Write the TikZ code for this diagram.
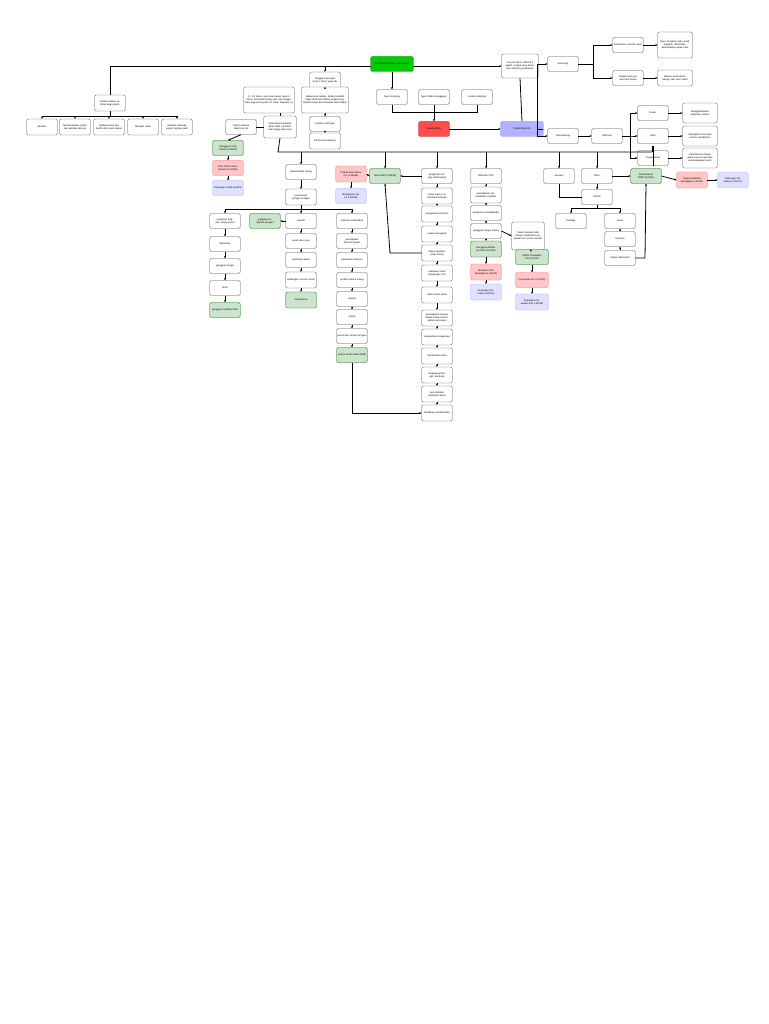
\documentclass[tikz,border=0pt]{standalone}
\usetikzlibrary{arrows.meta}
\usepackage{fontspec}
\setmainfont{Liberation Sans}
\begin{document}
\begin{tikzpicture}[x=1pt,y=-1pt,
  every node/.style={font=\fontsize{2.4}{2.9}\selectfont, align=center, inner sep=0.8pt},
  b/.style={draw=black!70, line width=0.35pt, rounded corners=1.5pt, fill=white, text width=#1-3pt, minimum height=15pt},
  b/.default=46pt,
  g/.style={b=#1, fill=green!45!black!20!white, draw=green!40!black},
  g/.default=46pt,
  r/.style={b=#1, fill=red!22, draw=red!60},
  r/.default=46pt,
  bl/.style={b=#1, fill=blue!12, draw=blue!35},
  bl/.default=46pt,
  ar/.style={line width=0.8pt, -{Stealth[length=2.2pt,width=2pt]}},
  ln/.style={line width=0.8pt}]
\useasboundingbox (0,0) rectangle (768,1024);
% root
\node[b=44pt, fill=green!80!black, draw=green!50!black] (root) at (392,64) {Osteoarthritis Genu (OA Genu)};
\node[b=38pt, minimum height=24pt] (risk) at (520,66) {Usia 54 tahun, BMI 29,4 kg/m2, riwayat kerja berat, jenis kelamin perempuan};
\node[b=32pt, minimum height=16pt] (kel) at (110,103) {Keluhan dalam aktivitas bagi pasien};
\coordinate (jL) at (110,66);
\draw[ln] (root.west |- jL) -- (jL) -- (kel.north);
\draw[ar] (root.east |- risk.west) -- (risk.west);
\foreach \n/\x/\t in {k1/42/Berlutut/jongkok, k2/75/Membersihkan rumah dan aktivitas lainnya, k3/109/Duduk bersila dan berdiri dari posisi duduk, k4/143/Menyetir mobil, k5/177/Aktivitas olahraga seperti berjalan jauh}
  {\node[b=32pt,minimum height=16pt] (\n) at (\x,127) {\t};
   \draw[ar] (kel.south) -- (110,116) -| (\n.north);}
% left upper
\node[b=52pt, minimum height=26pt] (hist) at (269,100) {Pr. 62 tahun, nyeri lutut kanan sejak 1 tahun, bertambah berat saat naik tangga, kaku pagi kurang dari 30 menit, krepitasi (+)};
\node[b=32pt] (lari) at (241,127) {Pasien tampak tidak bisa lari};
\node[b=34pt, minimum height=22pt] (jalan) at (280,127) {Kemampuan berjalan tidak stabil, kesulitan naik tangga dan turun};
\node[g=32pt] (gf) at (228,148) {Gangguan Fisik Tubuh (b.28005)};
\node[r=32pt] (rf) at (228,168) {Fisik Tubuh Keterbatasan (b.28015)};
\node[bl=32pt] (bf) at (228,188) {Dukungan Tubuh (e1151)};
\draw[ln] (hist.south -| jalan.north) -- (jalan.north);
\draw[ln] (jalan.west) -- (lari.east);
\draw[ar] (lari.south) -- (gf.north);
\draw[ar] (gf.south) -- (rf.north);
\draw[ar] (rf.south) -- (bf.north);
% middle upper
\node[b=32pt, minimum height=16pt] (tgl) at (325,80) {Tanggal kunjungan sejak 1 tahun yang lalu};
\node[b=48pt, minimum height=26pt] (mek) at (325,100) {Mekanisme cedera: beban berlebih pada sendi lutut dalam jangka lama, aktivitas berat dan kenaikan berat badan};
\node[b=32pt] (kon) at (325,124) {kondisi morfologis};
\node[b=32pt, minimum height=16pt] (ata) at (325,141) {Atrofi otot kuadrisep};
\draw[ar] (325,66) -- (tgl.north);
\draw[ar] (tgl.south) -- (mek.north);
\draw[ar] (mek.south) -- (kon.north);
\draw[ar] (kon.south) -- (ata.north);
\node[b=32pt] (n1) at (392,97) {Nyeri tumpang};
\node[b=32pt] (n2) at (434,97) {Nyeri tidak tertanggung};
\node[b=32pt] (n3) at (477,97) {Kondisi patologis};
\node[r=32pt, fill=red!70, draw=red!60!black] (oa) at (434,129) {Osteoarthritis};
\node[bl=44pt, fill=blue!30, draw=blue!50] (pato) at (522,129) {Patofisiologi OA};
\draw[ar] (root.south) -- (n1.north);
\draw[ln] (n1.south) |- (434,112);
\draw[ln] (n3.south) |- (434,112);
\draw[ar] (n2.south) -- (oa.north);
\draw[ar] (oa.east) -- (pato.west);
\draw[ln] (risk.south) -- (pato.north);
% right upper
\node[b=32pt] (semi) at (563,64) {Semiologi};
\node[b=32pt] (histo) at (563,136) {Histopatologi};
\draw[ar] (pato.east) -- (537,129) |- (semi.west);
\draw[ar] (537,129) |- (histo.west);
\node[b=32pt] (s1) at (628,45) {Anamnesis: keluhan nyeri};
\node[b=32pt] (s2) at (628,78) {Inspeksi dan palpasi lutut terasa};
\draw[ar] (semi.east) -- (593,64) |- (s1.west);
\draw[ar] (593,64) |- (s2.west);
\node[b=36pt, minimum height=26pt] (s1n) at (675,45) {Nyeri, bengkak, kaku sendi, krepitasi, deformitas, keterbatasan gerak lutut};
\node[b=36pt, minimum height=16pt] (s2n) at (675,78) {Edema, kemerahan, hangat, dan nyeri tekan};
\draw[ar] (s1.east) -- (s1n.west);
\draw[ar] (s2.east) -- (s2n.west);
\node[b=32pt] (infl) at (607,136) {Inflamasi};
\draw[ar] (histo.east) -- (infl.west);
\foreach \n/\y/\t/\m in {h1/113/Rubor/Menggambarkan pelepasan sitokin, h2/136/Kalor/Meningkat suhu lokal karena vasodilatasi, h3/158/Fungsiolaesa/Keterbatasan fungsi gerak karena nyeri dan pembengkakan sendi}
  {\node[b=32pt] (\n) at (653,\y) {\t};
   \draw[ar] (infl.east) -- (630,136) |- (\n.west);
   \node[b=36pt, minimum height=20pt] (\n n) at (700,\y) {\m};
   \draw[ar] (\n.east) -- (\n n.west);}
% main bus
\draw[ln] (jalan.south) -- (278,152) -- (652,152);
\draw[ln] (h3.south) |- (652,146) -- (652,152);
% level 2
\node[b=32pt] (abn) at (301,172) {Abnormalitas tulang};
\node[g=32pt] (nl) at (385,176) {Nyeri lutut (b.28016)};
\node[r=32pt, minimum height=16pt] (tn) at (351,174) {Tingkat Nyeri Menurun (L.08066)};
\node[bl=32pt] (mn) at (351,196) {Manajemen Nyeri (I.08238)};
\node[b=32pt] (pen) at (437,176) {pengecilan Ruang sendi tulang};
\node[b=32pt] (crp) at (486,176) {Inflamasi CRP};
\node[b=32pt] (sin) at (559,176) {Sinovitis};
\node[b=32pt] (efu) at (597,176) {Efusi};
\node[g=32pt] (rom) at (646,176) {Keterbatasan ROM (D.0054)};
\node[r=32pt, minimum height=16pt] (rr) at (692,180) {Tingkat Mobilitas Meningkat (L.05042)};
\node[bl=32pt] (br) at (733,180) {Dukungan Mobilisasi (I.05173)};
\draw[ar] (301,152) -- (abn.north);
\draw[ar] (385,152) -- (nl.north);
\draw[ar] (437,152) -- (pen.north);
\draw[ar] (486,152) -- (crp.north);
\draw[ar] (559,152) -- (sin.north);
\draw[ar] (597,152) -- (efu.north);
\draw[ar] (nl.west) -- (tn.east);
\draw[ar] (tn.south) -- (mn.north);
\draw[ar] (pen.west) -- (nl.east);
\draw[ar] (efu.east) -- (rom.west);
\draw[ar] (rom.east) -- (rr.west);
\draw[ar] (rr.east) -- (br.west);
% column 301
\node[b=32pt, minimum height=16pt] (kol) at (301,197) {pemecahan jaringan kolagen};
\draw[ar] (abn.south) -- (kol.north);
\node[b=32pt] (a1) at (225,221) {penipisan fragmen tulang rawan};
\node[b=32pt] (b1) at (301,221) {osteofit};
\node[b=32pt] (c1) at (352,221) {sklerosis subkondral};
\node[g=32pt] (gg) at (265,221) {gangguan integritas jaringan};
\foreach \n in {a1,b1,c1} {\draw[ar] (kol.south) -- (301,209) -| (\n.north);}
\draw[ar] (b1.west) -- (gg.east);
\node[b=32pt] (a2) at (225,244) {deformitas};
\node[b=32pt] (a3) at (225,266) {gangguan fungsi};
\node[b=32pt] (a4) at (225,288) {atrofi};
\node[g=32pt] (a5) at (225,310) {gangguan mobilitas fisik};
\draw[ar] (a1) -- (a2); \draw[ar] (a2) -- (a3); \draw[ar] (a3) -- (a4); \draw[ar] (a4) -- (a5);
\node[b=32pt] (b2) at (301,241) {pusat rasa nyeri};
\node[b=32pt] (b3) at (301,260) {pembuluh darah};
\node[b=32pt, minimum height=16pt] (b4) at (301,280) {kehilangan volume cairan};
\node[g=32pt, minimum height=16pt] (b5) at (301,300) {hipovolemia};
\draw[ar] (b1) -- (b2); \draw[ar] (b2) -- (b3); \draw[ar] (b3) -- (b4); \draw[ar] (b4) -- (b5);
\node[b=32pt] (c2) at (352,241) {peningkatan tekanan kapiler};
\node[b=32pt] (c3) at (352,260) {pelepasan histamin};
\node[b=32pt] (c4) at (352,280) {produk plasma tulang};
\node[b=32pt] (c5) at (352,299) {edema};
\node[b=32pt] (c6) at (352,317) {kristal};
\node[b=32pt] (c7) at (352,336) {penurunan perfusi jaringan};
\node[g=32pt] (c8) at (352,355) {perfusi perifer tidak efektif};
\draw[ar] (c1) -- (c2); \draw[ar] (c2) -- (c3); \draw[ar] (c3) -- (c4); \draw[ar] (c4) -- (c5);
\draw[ar] (c5) -- (c6); \draw[ar] (c6) -- (c7); \draw[ar] (c7) -- (c8);
% column 437
\foreach \n/\y/\t in {p2/196/{rontok kapsul, ditentukan fisiologis}, p3/214/pengeluaran histamin, p4/234/reaksi neurogenik, p5/253/{kapsul gesekan pada tulang}, p6/273/{kekakuan sendi ketegangan otot}, p7/295/reaksi stress kimia, p8/318/{peningkatan tekanan dalam tulang menimbulkan kerusakan}, p9/337/{melepaskan kolagenase}, p10/356/{membentuk asam}, p11/375/{bergabung dengan membran}, p12/394/{pemendekan pembuluh darah}, p13/413/{terjadinya pembentukan}}
  {\node[b=32pt, minimum height=16pt] (\n) at (437,\y) {\t};}
\draw[ar] (pen) -- (p2); \draw[ar] (p2) -- (p3); \draw[ar] (p3) -- (p4); \draw[ar] (p4) -- (p5);
\draw[ar] (p5) -- (p6); \draw[ar] (p6) -- (p7); \draw[ar] (p7) -- (p8); \draw[ar] (p8) -- (p9);
\draw[ar] (p9) -- (p10); \draw[ar] (p10) -- (p11); \draw[ar] (p11) -- (p12); \draw[ar] (p12) -- (p13);
\draw[ar] (p5.west) -- (390,253) -- (nl.south);
\draw[ar] (c8.south) -- (352,413) -- (p13.west);
% column 486
\node[b=32pt, minimum height=16pt] (r2) at (486,195) {peningkatan permeabilitas vaskular};
\node[b=32pt] (r3) at (486,213) {pelepasan prostaglandin};
\node[b=32pt] (r4) at (486,231) {gangguan fungsi tulang};
\node[g=32pt, minimum height=16pt] (r5) at (486,249) {Gangguan Mobilitas Fisik (D.0054)};
\node[r=32pt, minimum height=16pt] (r6) at (486,272) {Mobilitas Fisik Meningkat (L.05042)};
\node[bl=32pt, minimum height=16pt] (r7) at (486,292) {Dukungan Ambulasi (I.06171)};
\draw[ar] (crp) -- (r2); \draw[ar] (r2) -- (r3); \draw[ar] (r3) -- (r4); \draw[ar] (r4) -- (r5);
\draw[ar] (r5) -- (r6); \draw[ar] (r6) -- (r7);
\node[b=34pt, minimum height=28pt] (q1) at (528,236) {Pasien tampak tidak mampu melakukan perawatan diri secara mandiri};
\node[g=34pt] (q2) at (532,257) {Defisit Perawatan Diri (D.0109)};
\node[r=34pt] (q3) at (532,280) {Perawatan Diri (L.11103)};
\node[bl=34pt, minimum height=16pt] (q4) at (532,302) {Dukungan Perawatan Diri (I.11348)};
\draw[ar] (r4.east) -- (q1.west);
\draw[ar] (q1) -- (q2); \draw[ar] (q2) -- (q3); \draw[ar] (q3) -- (q4);
% column 562/597
\node[b=32pt] (ose) at (597,197) {Ostofit};
\draw[ln] (sin.south) |- (ose.west);
\draw[ar] (efu.south) -- (ose.north);
\node[b=32pt] (o1) at (571,221) {kartilago};
\node[b=32pt] (o2) at (620,221) {sendi};
\draw[ar] (ose.south) -- (597,208) -| (o1.north);
\draw[ar] (597,208) -| (o2.north);
\node[b=32pt] (o3) at (620,239) {sinovium};
\node[b=32pt] (o4) at (620,258) {tulang subkondral};
\draw[ar] (o4) -- (o3); \draw[ar] (o3) -- (o2);
\draw[ar] (o4.east) -- (645,258) -- (rom.south);
\end{tikzpicture}
\end{document}
